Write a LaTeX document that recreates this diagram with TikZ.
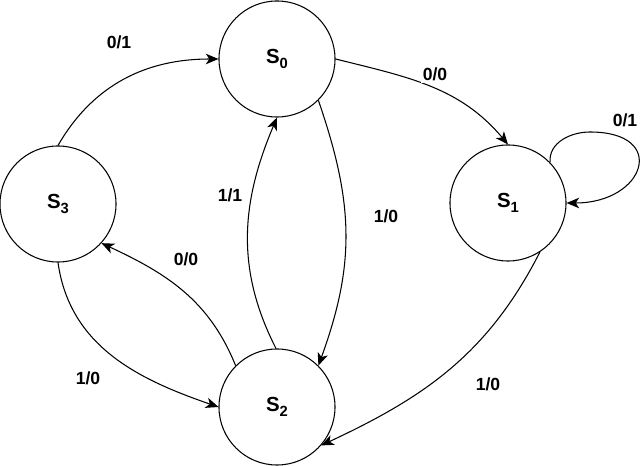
\documentclass[tikz,border=0pt]{standalone}
\usepackage{fontspec}
\setmainfont{Liberation Sans}
\usetikzlibrary{arrows.meta}
\newcommand\stname[1]{S\raisebox{-.5ex}{\fontsize{10.5}{11}\selectfont #1}}

\begin{document}
\begin{tikzpicture}[x=0.025cm,y=0.025cm,line width=0.75pt,>={Stealth[length=9pt,width=7.5pt,inset=2.5pt]}]
    \tikzstyle{state}=[circle,draw=black,inner sep=0pt,minimum size=2.9cm,font=\bfseries\fontsize{14.5}{16}\selectfont]
    \tikzstyle{lbl}=[fill=white,inner sep=1.5pt,font=\bfseries\fontsize{12.5}{14}\selectfont]

    \useasboundingbox (0,0) rectangle (640,466);

    \node (s0)[state] at (277,407) {\stname{0}};
    \node (s1)[state] at (508,263) {\stname{1}};
    \node (s2)[state] at (277,59) {\stname{2}};
    \node (s3)[state] at (58,262) {\stname{3}};

    \draw[->] (s3.north) to[out=60,in=180] (s0.west);
    \draw[->] (s0.east) to[out=-14,in=130] (s1.north);
    \draw[->] (s1.44) to[out=95,in=180] (590,334) to[out=0,in=0,looseness=2.7] (s1.east);
    \draw[->] (s0.-45) to[out=-71,in=70,looseness=1.05] (s2.45);
    \draw[->] (s2.91) to[out=117,in=-113] (s0.south);
    \draw[->] (s2.135) to[out=112,in=-25] (s3.-42);
    \draw[->] (s3.south) to[out=-82,in=161] (s2.west);
    \draw[->] (s1.-57) to[out=-117,in=25] (s2.-41);

    \node (l30)[lbl] at (119,424) {0/1};
    \node (l01)[lbl] at (435,392) {0/0};
    \node (l11)[lbl] at (625,346) {0/1};
    \node (l02)[lbl] at (386,250) {1/0};
    \node (l20)[lbl] at (230,271) {1/1};
    \node (l23)[lbl] at (186,207) {0/0};
    \node (l32)[lbl] at (88,88) {1/0};
    \node (l12)[lbl] at (488,82) {1/0};
\end{tikzpicture}
\end{document}
